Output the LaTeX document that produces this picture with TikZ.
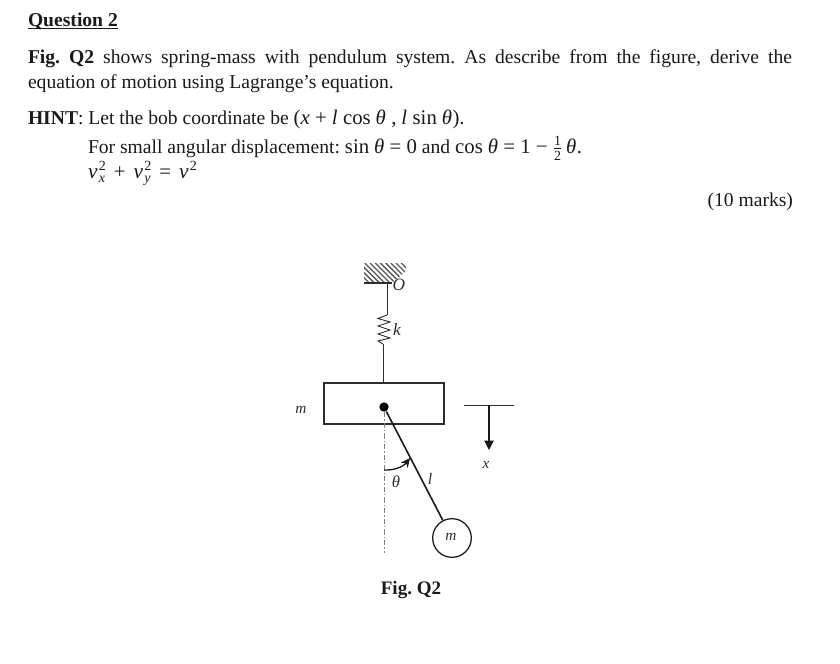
\RequirePackage{fix-cm}
\documentclass[tikz,border=0pt]{standalone}
\usepackage{amsmath}
\usepackage{fontspec}
\setmainfont{Liberation Serif}
\usetikzlibrary{arrows.meta}
\definecolor{ink}{HTML}{1A1A1A}
\definecolor{figink}{HTML}{2E2E2E}
\newcommand{\bodysize}{\fontsize{14.7}{17}\selectfont}
\newcommand{\figsize}{\fontsize{10.5}{12}\selectfont}
\newcommand{\just}[1]{\makebox[573pt][s]{#1}}
\newcommand{\mvar}[1]{\textit{\fontsize{15.6}{17}\selectfont #1\kern0.4pt}}
\newcommand{\mup}[1]{{\fontsize{15.6}{17}\selectfont #1}}
\newcommand{\vbig}{\textit{\fontsize{16}{17}\selectfont v}}
\newcommand{\smallup}[1]{\raisebox{5.5pt}[0pt][0pt]{\fontsize{10.5}{10}\selectfont #1}}
\newcommand{\smalldn}[1]{\raisebox{-3pt}[0pt][0pt]{\itshape\fontsize{10.5}{10}\selectfont #1}}
\newcommand{\vxy}[2]{\vbig\kern1pt\rlap{\smalldn{#1}}\smallup{#2}}
\newcommand{\halffrac}{\raisebox{-0.5pt}{$\frac{\text{\fontsize{10.5}{11}\selectfont 1}}{\text{\fontsize{10.5}{11}\selectfont 2}}$}}
\tikzset{
  x=0.75pt,y=-0.75pt,
  body/.style={anchor=base west,inner sep=0pt,outer sep=0pt,text=ink,font=\bodysize},
  figlabel/.style={inner sep=0pt,outer sep=0pt,text=figink,font=\figsize\itshape},
  wire/.style={draw=figink,line width=0.7pt},
  thick wire/.style={draw=ink,line width=1.2pt},
  mass box/.style={draw=figink,line width=1.1pt,minimum width=90pt,minimum height=30.75pt,inner sep=0pt},
  bob/.style={circle,draw=ink,line width=0.95pt,minimum size=29pt,inner sep=0pt},
  pivot/.style={circle,fill=black,minimum size=7pt,inner sep=0pt},
  hatchline/.style={draw=figink!80,line width=1pt},
  axis head/.style={-{Triangle[length=7pt,width=7pt]}},
  angle head/.style={-{Stealth[length=7pt,width=6.5pt]}}
}
\frenchspacing
\begin{document}
\begin{tikzpicture}
\useasboundingbox[fill=white] (0,0) rectangle (840,664);
% text
\node[body] (title) at (28,26) {\textbf{\underline{\smash{Question 2}}}};
\node[body] (l1) at (28,63) {\just{\textbf{Fig. Q2} shows spring-mass with pendulum system. As describe from the figure, derive the}};
\node[body] (l2) at (28,88) {equation of motion using Lagrange’s equation.};
\node[body] (l3) at (28,124) {\textbf{HINT}: Let the bob coordinate be \mup{(}\mvar{x} \mup{+} \mvar{l} \mup{cos} \mvar{θ} \mup{,} \mvar{l} \mup{sin} \mvar{θ}\mup{).}};
\node[body] (l4) at (88,153) {For small angular displacement: \mup{sin} \mvar{θ} \mup{= 0} and \mup{cos} \mvar{θ} \mup{= 1 −} \halffrac\,\mvar{θ}\mup{.}};
\node[body] (l5) at (88,178) {\vxy{x}{2}\hspace{6pt}\mup{+}\hspace{6pt}\vxy{y}{2}\hspace{6pt}\mup{=}\hspace{6pt}\vbig\kern1pt\smallup{2}};
\node[body,anchor=base east] (marks) at (793,206) {(10 marks)};
% support hatch
\begin{scope}
\clip (364,263) -- (406,263) -- (406,271) -- (392,283) -- (364,283) -- cycle;
\foreach \i in {0,5.2,...,67}{
  \draw[hatchline] (344+\i,263) -- (364+\i,283);
}
\end{scope}
\coordinate (wallL) at (364,283);
\coordinate (wallR) at (392,283);
\coordinate (top) at (387,283);
\coordinate (springtop) at (387,315);
\coordinate (springbot) at (383,344);
\draw[wire,line width=0.8pt] (wallL) -- (wallR);
% mass, pivot, bob
\node[mass box] (block) at (384,403.5) {};
\node[pivot] (piv) at (384,407) {};
\node[bob] (ball) at (452,538) {};
\coordinate (blocktop) at (383,383);
\draw[wire] (top) -- (springtop);
\draw[wire,line join=miter] (springtop) -- (378,318.5) -- (390,322) -- (378,326) -- (390,330) -- (378,334) -- (390,338) -- (378,341) -- (springbot);
\draw[wire] (springbot) -- (blocktop);
% centre line and pendulum
\coordinate (refend) at (384,553);
\draw[draw=gray,line width=0.7pt,dash pattern=on 4pt off 1.5pt on 1pt off 1.5pt] (piv.south) -- (refend);
\draw[thick wire] (piv) -- (ball);
% angle arc
\coordinate (arcstart) at (384,470);
\coordinate (arcend) at (410,458);
\draw[draw=ink,line width=1pt,angle head] (arcstart) .. controls (394,470.5) and (403,467) .. (arcend);
% x axis
\coordinate (tl) at (464,405);
\coordinate (tr) at (514,405);
\coordinate (tm) at (489,405);
\coordinate (tb) at (489,450);
\draw[wire] (tl) -- (tr);
\draw[draw=ink,line width=1pt,axis head] (tm) -- (tb);
% labels
\node[figlabel] (lO) at (399,285) {\fontsize{13}{14}\selectfont O};
\node[figlabel] (lk) at (397,329) {\fontsize{13}{14}\selectfont k};
\node[figlabel] (lm) at (301,410) {\fontsize{11.5}{12}\selectfont m};
\node[figlabel] (lx) at (486,465) {\fontsize{11.5}{12}\selectfont x};
\node[figlabel] (lth) at (396,482) {\fontsize{12.5}{14}\selectfont θ};
\node[figlabel] (ll) at (430,479) {\fontsize{12}{14}\selectfont l};
\node[figlabel] (lmb) at (451,537) {\fontsize{11.5}{12}\selectfont m};
\node[inner sep=0pt,text=ink,font=\fontsize{14.3}{17}\selectfont\bfseries] (cap) at (411,590) {Fig. Q2};
\end{tikzpicture}
\end{document}
